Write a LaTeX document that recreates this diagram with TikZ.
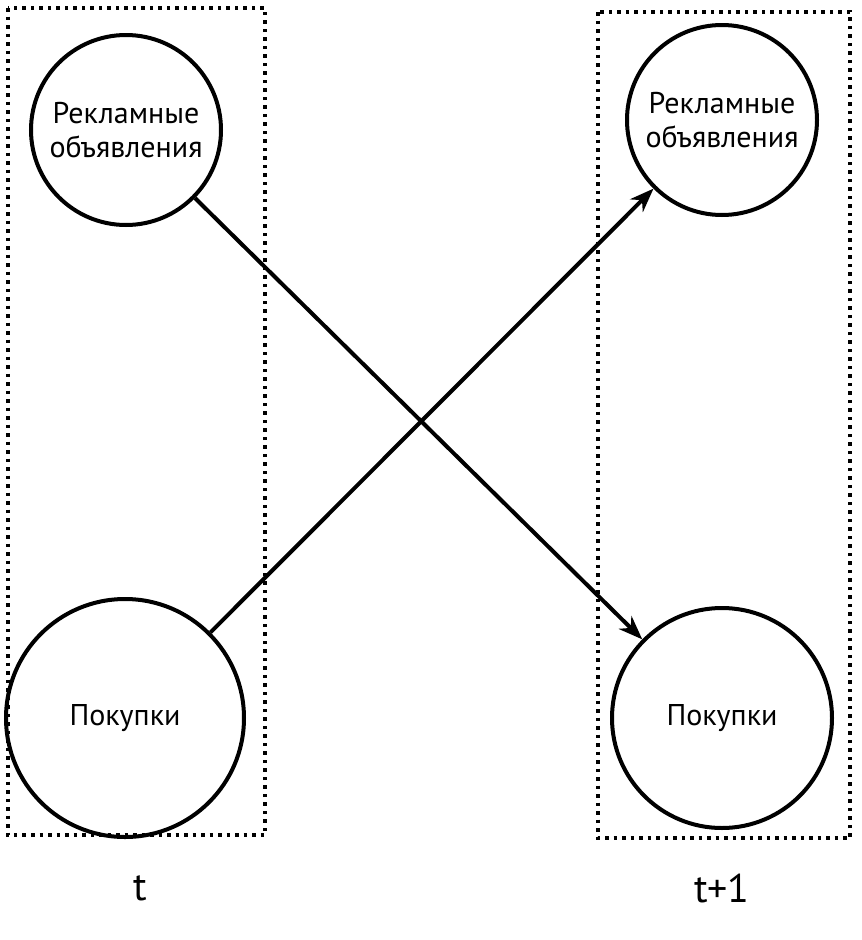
\documentclass[tikz,border=0pt]{standalone}
\usepackage{fontspec}
\setmainfont{PT Sans}
\usetikzlibrary{arrows.meta}
\begin{document}
\begin{tikzpicture}[x=1pt,y=-1pt,
  box/.style={draw, line width=3.5pt, dash pattern=on 3.5pt off 5pt},
  st/.style={draw, circle, line width=4pt, inner sep=0pt, align=center, font=\fontsize{30}{34}\selectfont},
  conn/.style={line width=4pt, -{Stealth[length=24pt,width=18pt]}},
  lab/.style={font=\fontsize{40}{42}\selectfont}]
\useasboundingbox (0,0) rectangle (862,940);
\draw[box] (8,8) rectangle (265,835);
\draw[box] (598,12) rectangle (850,838);
\node[st, minimum size=190pt] (a1) at (126,130) {Рекламные\\объявления};
\node[st, minimum size=238pt] (p1) at (125,718) {Покупки};
\node[st, minimum size=190pt] (a2) at (722,120) {Рекламные\\объявления};
\node[st, minimum size=220pt] (p2) at (722,718) {Покупки};
\draw[conn] (a1) -- (p2);
\draw[conn] (p1) -- (a2);
\node[lab] (t1) at (140,888) {t};
\node[lab] (t2) at (722,888) {t+1};
\end{tikzpicture}
\end{document}
